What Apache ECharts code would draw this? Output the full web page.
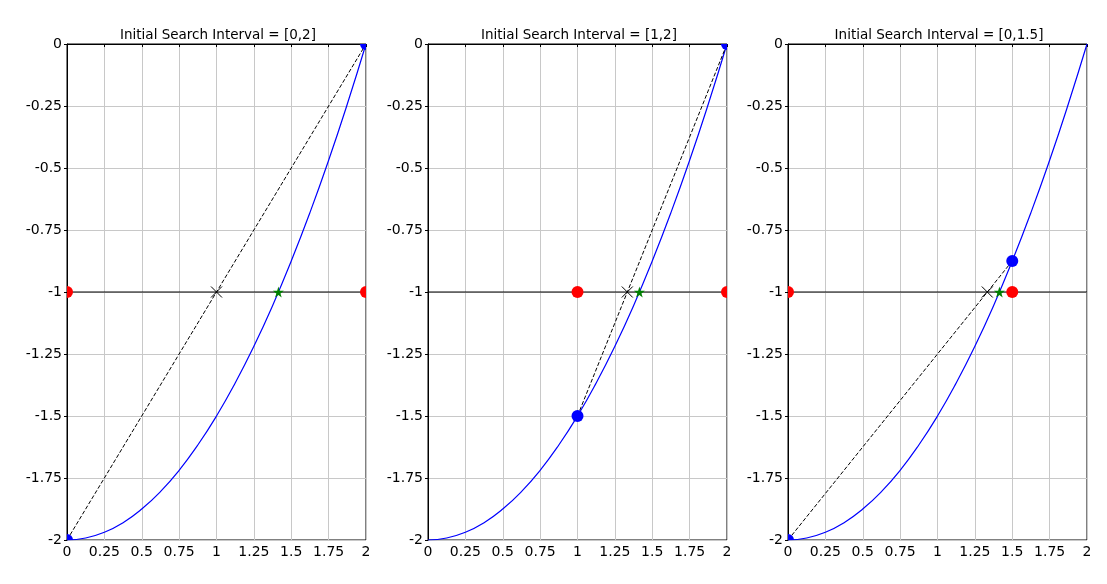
<!DOCTYPE html>
<html>
<head>
<meta charset="utf-8">
<script src="https://cdn.jsdelivr.net/npm/echarts@6/dist/echarts.min.js"></script>
<style>
  html, body { margin: 0; padding: 0; background: #fff; }
  #chart { width: 1107px; height: 584px; }
</style>
</head>
<body>
<div id="chart"></div>
<script>
// 曲线取样点 (读图所得)
const curveX = [0, 0.125, 0.25, 0.375, 0.5, 0.625, 0.75, 0.875, 1, 1.125, 1.25, 1.375, 1.5, 1.625, 1.75, 1.875, 2]
const curveY = [-2, -1.992, -1.969, -1.93, -1.875, -1.805, -1.719, -1.617, -1.5, -1.367, -1.219, -1.055, -0.875, -0.68, -0.469, -0.242, 0]

// 每个子图的区间
const titles = ['Initial Search Interval = [0,2]', 'Initial Search Interval = [1,2]', 'Initial Search Interval = [0,1.5]']
const lowerX = [0, 1, 0]
const upperX = [2, 2, 1.5]
const lowerF = [-2, -1.5, -2]
const upperF = [0, 0, -0.875]
const crossX = [1, 1.333, 1.333]
const rootX = 1.414
const targetY = -1

const gridLefts = [67, 428, 788]
const font = 'DejaVu Sans'

let grid = []
let xAxis = []
let yAxis = []
let title = []
let series = []

const crossPath = 'path://M0,0L10,10M10,0L0,10'
const starPath = 'path://M50,0 L61,35 L98,35 L68,57 L79,91 L50,70 L21,91 L32,57 L2,35 L39,35 Z'

// 圆点, 超出绘图区的部分被裁掉
const dotSeries = (i, color, data) => ({
    type: 'custom', xAxisIndex: i, yAxisIndex: i, clip: true, z: 4,
    encode: { x: 0, y: 1 },
    renderItem: (params, api) => {
        const p = api.coord([api.value(0), api.value(1)])
        return { type: 'circle', shape: { cx: p[0], cy: p[1], r: 6 }, style: { fill: color } }
    },
    data: data,
})

for (let i = 0; i < 3; i++) {
    grid.push({
        left: gridLefts[i], top: 44, width: 299, height: 496,
        show: true, borderColor: '#000', borderWidth: 1,
    })
    title.push({
        text: titles[i],
        left: gridLefts[i] + 146,
        textAlign: 'center',
        top: 23,
        textStyle: { fontFamily: font, fontSize: 13.5, fontWeight: 'normal', color: '#000' },
    })
    xAxis.push({
        gridIndex: i, type: 'value', min: 0, max: 2, interval: 0.25,
        axisLine: { lineStyle: { color: '#000' } },
        axisTick: { show: true, length: 3, lineStyle: { color: '#000' } },
        splitLine: { show: true, lineStyle: { color: '#c8c8c8', width: 1 } },
        axisLabel: {
            fontFamily: font, fontSize: 14, color: '#000', margin: 5,
            formatter: (v) => String(+v.toFixed(2)),
        },
    })
    yAxis.push({
        gridIndex: i, type: 'value', min: -2, max: 0, interval: 0.25,
        axisLine: { show: true, lineStyle: { color: '#000' } },
        axisTick: { show: true, length: 3, lineStyle: { color: '#000' } },
        splitLine: { show: true, lineStyle: { color: '#c8c8c8', width: 1 } },
        axisLabel: {
            fontFamily: font, fontSize: 14, color: '#000', margin: 5,
            formatter: (v) => String(+v.toFixed(2)),
        },
    })

    // 水平线 y = -1
    series.push({
        type: 'line', xAxisIndex: i, yAxisIndex: i, symbol: 'none', silent: true,
        lineStyle: { color: '#000', width: 1 },
        data: [[0, targetY], [2, targetY]],
    })
    // 函数曲线
    series.push({
        type: 'line', xAxisIndex: i, yAxisIndex: i, symbol: 'none', smooth: true,
        lineStyle: { color: '#0000ff', width: 1.2 },
        data: curveX.map((x, k) => [x, curveY[k]]),
    })
    // 割线
    series.push({
        type: 'line', xAxisIndex: i, yAxisIndex: i, symbol: 'none',
        lineStyle: { color: '#000', width: 1, type: [4, 2] },
        data: [[lowerX[i], lowerF[i]], [upperX[i], upperF[i]]],
    })
    // 区间端点 (红)
    series.push(dotSeries(i, '#ff0000', [[lowerX[i], targetY], [upperX[i], targetY]]))
    // 函数值点 (蓝)
    series.push(dotSeries(i, '#0000ff', [[lowerX[i], lowerF[i]], [upperX[i], upperF[i]]]))
    // 割线交点 (X)
    series.push({
        type: 'scatter', xAxisIndex: i, yAxisIndex: i, symbol: crossPath, symbolSize: 11, z: 5,
        itemStyle: { color: 'none', borderColor: '#000', borderWidth: 1, opacity: 1 },
        data: [[crossX[i], targetY]],
    })
    // 真实根 (星)
    series.push({
        type: 'scatter', xAxisIndex: i, yAxisIndex: i, symbol: starPath, symbolSize: 11, z: 5,
        itemStyle: { color: '#008000', opacity: 1 },
        data: [[rootX, targetY]],
    })
}

let option = {
    animation: false,
    backgroundColor: '#fff',
    title: title,
    grid: grid,
    xAxis: xAxis,
    yAxis: yAxis,
    series: series,
}

let myChart = echarts.init(document.getElementById('chart'))
myChart.setOption(option)
</script>
</body>
</html>
